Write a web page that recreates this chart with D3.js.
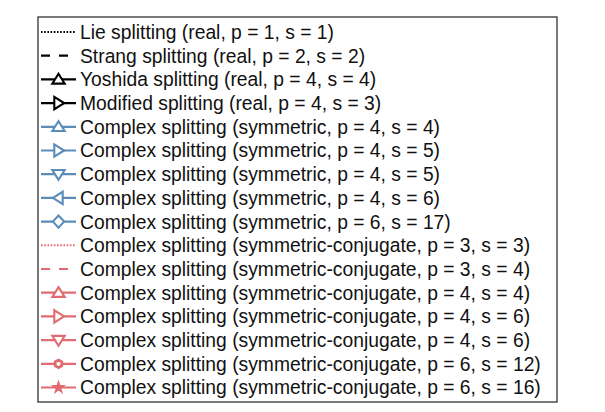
<!DOCTYPE html>
<html><head><meta charset="utf-8">
<script src="https://cdn.jsdelivr.net/npm/d3@7"></script>
<style>html,body{margin:0;padding:0;background:#fff}</style>
</head><body>
<svg id="chart" width="605" height="412"></svg>
<script>
const labels = [
  "Lie splitting (real, p = 1, s = 1)",
  "Strang splitting (real, p = 2, s = 2)",
  "Yoshida splitting (real, p = 4, s = 4)",
  "Modified splitting (real, p = 4, s = 3)",
  "Complex splitting (symmetric, p = 4, s = 4)",
  "Complex splitting (symmetric, p = 4, s = 5)",
  "Complex splitting (symmetric, p = 4, s = 5)",
  "Complex splitting (symmetric, p = 4, s = 6)",
  "Complex splitting (symmetric, p = 6, s = 17)",
  "Complex splitting (symmetric-conjugate, p = 3, s = 3)",
  "Complex splitting (symmetric-conjugate, p = 3, s = 4)",
  "Complex splitting (symmetric-conjugate, p = 4, s = 4)",
  "Complex splitting (symmetric-conjugate, p = 4, s = 6)",
  "Complex splitting (symmetric-conjugate, p = 4, s = 6)",
  "Complex splitting (symmetric-conjugate, p = 6, s = 12)",
  "Complex splitting (symmetric-conjugate, p = 6, s = 16)"
];
const groups = ["real","real","real","real","sym","sym","sym","sym","sym","conj","conj","conj","conj","conj","conj","conj"];
const lineStyles = ["dot","dash","solid","solid","solid","solid","solid","solid","solid","dot","dash","solid","solid","solid","solid","solid"];
const markers = ["none","none","up","right","up","right","down","left","diamond","none","none","up","right","down","hexagon","star"];
const groupColors = {real:"#000000", sym:"#5b8db8", conj:"#e06b70"};

const svg = d3.select("#chart");
const box = {x0:38, y0:17, x1:557, y1:402};
svg.append("rect").attr("x",box.x0).attr("y",box.y0)
  .attr("width",box.x1-box.x0).attr("height",box.y1-box.y0)
  .attr("fill","#fff").attr("stroke","#333").attr("stroke-width",1.3);

const y = d3.scalePoint().domain(d3.range(labels.length)).range([32, 387.5]);
const lx0 = 41, lx1 = 76, mx = 58.5, tx = 80;

const dashMap = {dot:"1.6,1.6", dash:"9,9", solid:null};

function markerPath(type){
  const s = 5.6;
  switch(type){
    case "up": return `M0,${-s}L${s*1.1},${s*0.75}L${-s*1.1},${s*0.75}Z`;
    case "down": return `M0,${s}L${s*1.1},${-s*0.75}L${-s*1.1},${-s*0.75}Z`;
    case "right": return `M${s},0L${-s*0.75},${s*1.1}L${-s*0.75},${-s*1.1}Z`;
    case "left": return `M${-s},0L${s*0.75},${s*1.1}L${s*0.75},${-s*1.1}Z`;
    case "diamond": return `M0,${-s*1.1}L${s},0L0,${s*1.1}L${-s},0Z`;
    case "hexagon": {
      const r = 3.8; let p = "";
      for(let i=0;i<6;i++){const a=Math.PI/3*i+Math.PI/6; p += (i?"L":"M")+(r*Math.cos(a)).toFixed(2)+","+(r*Math.sin(a)).toFixed(2);}
      return p+"Z";
    }
    case "star": return d3.symbol().type(d3.symbolStar).size(34)();
  }
  return null;
}

const rows = svg.selectAll("g.row").data(labels).join("g")
  .attr("class","row")
  .attr("transform",(d,i)=>`translate(0,${y(i)})`);

rows.append("line")
  .attr("x1",lx0).attr("x2",lx1).attr("y1",0).attr("y2",0)
  .attr("stroke",(d,i)=>groupColors[groups[i]])
  .attr("stroke-width",(d,i)=>lineStyles[i]==="dot"?2:2.2)
  .attr("stroke-dasharray",(d,i)=>dashMap[lineStyles[i]]);

rows.each(function(d,i){
  const m = markers[i];
  if(m==="none") return;
  const c = groupColors[groups[i]];
  d3.select(this).append("path")
    .attr("transform",`translate(${mx},0)`)
    .attr("d",markerPath(m))
    .attr("fill", m==="star" ? c : "#fff")
    .attr("stroke",c).attr("stroke-width", m==="hexagon"?2.8:(m==="star"?1.5:2.1))
    .attr("stroke-linejoin","miter");
});

rows.append("text")
  .attr("x",tx).attr("y",6.9)
  .attr("font-family","'Liberation Sans', Arial, Helvetica, sans-serif")
  .attr("font-size","19.3px")
  .attr("fill","#111")
  .text(d=>d);
</script>
</body></html>
